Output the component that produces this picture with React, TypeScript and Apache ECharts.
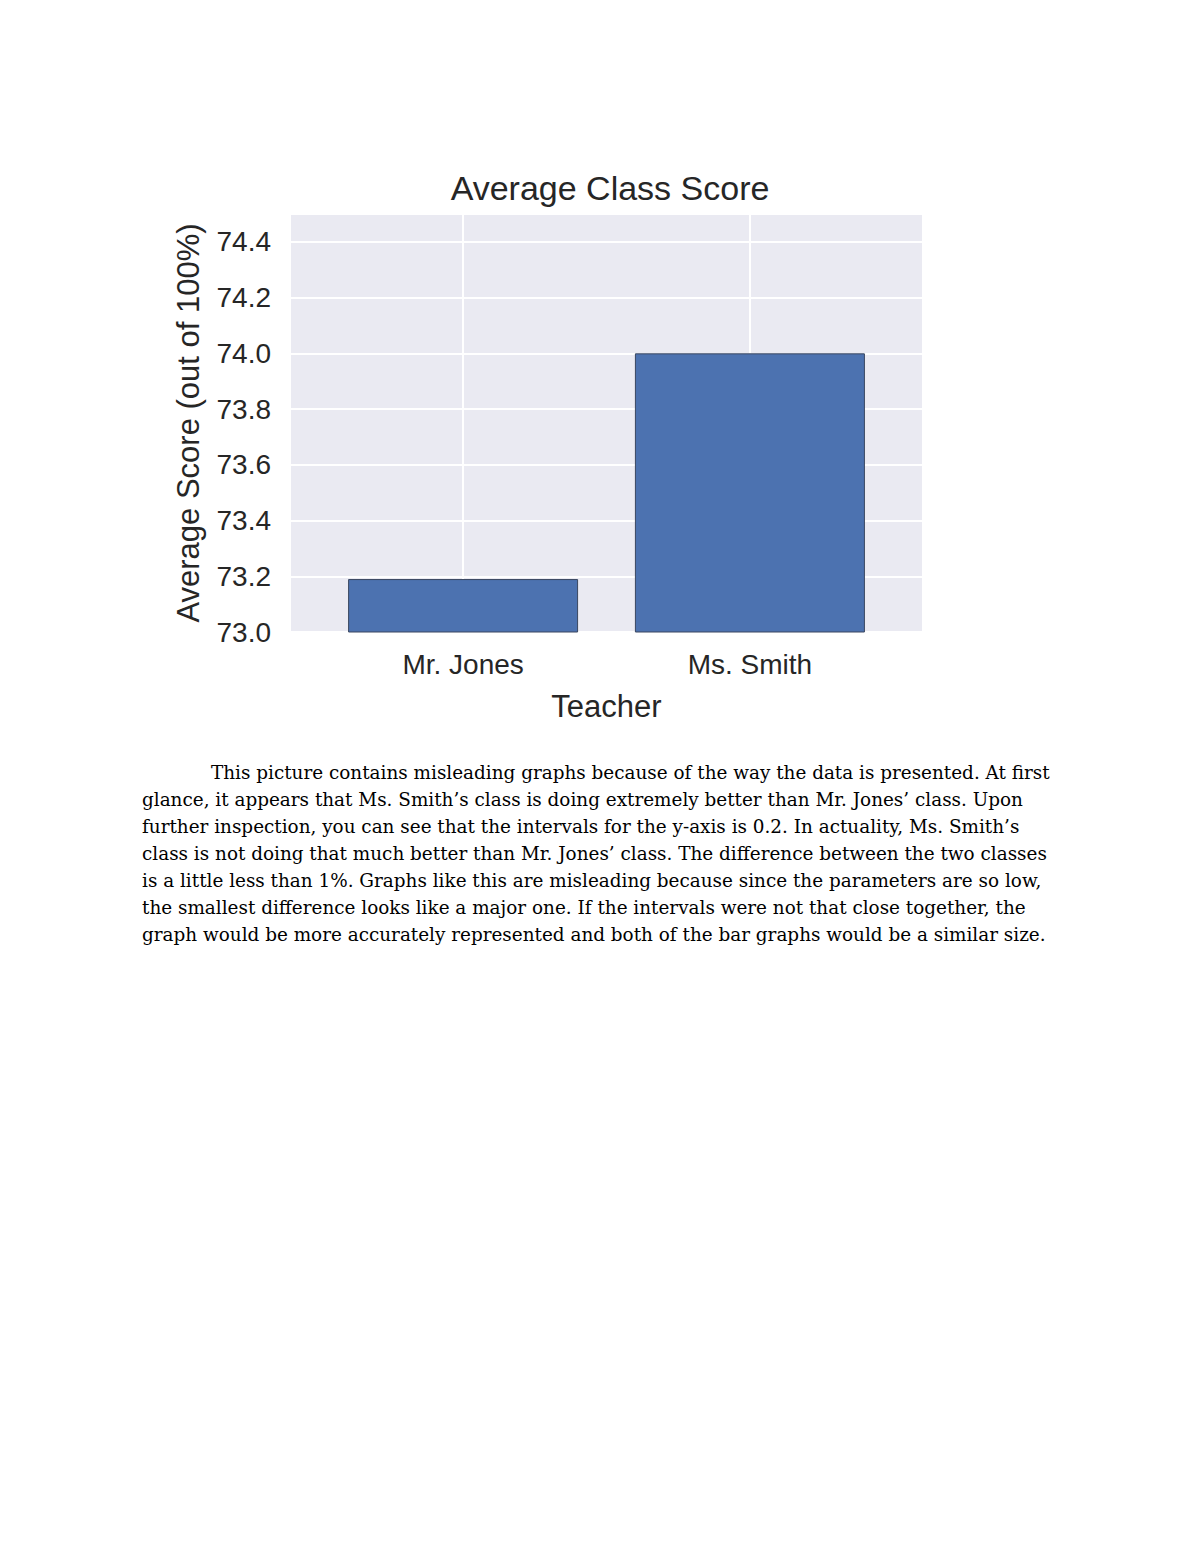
import { useEffect, useRef } from "react"
import * as echarts from "echarts"

const teachers = ["Mr. Jones", "Ms. Smith"]
const scores = [73.19, 74.0]
const yTicks = [73.0, 73.2, 73.4, 73.6, 73.8, 74.0, 74.2, 74.4]

const paragraph = [
  "This picture contains misleading graphs because of the way the data is presented. At first",
  "glance, it appears that Ms. Smith’s class is doing extremely better than Mr. Jones’ class. Upon",
  "further inspection, you can see that the intervals for the y-axis is 0.2. In actuality, Ms. Smith’s",
  "class is not doing that much better than Mr. Jones’ class. The difference between the two classes",
  "is a little less than 1%. Graphs like this are misleading because since the parameters are so low,",
  "the smallest difference looks like a major one. If the intervals were not that close together, the",
  "graph would be more accurately represented and both of the bar graphs would be a similar size.",
]

const SANS = "'Liberation Sans', Arial, sans-serif"
const SERIF = "'DejaVu Serif', 'Liberation Serif', serif"

export default function App() {
  const chartRef = useRef<HTMLDivElement>(null)

  useEffect(() => {
    if (!chartRef.current) return
    const chart = echarts.init(chartRef.current, null, { renderer: "svg" })

    const option: echarts.EChartsOption = {
      animation: false,
      backgroundColor: "#ffffff",
      title: {
        text: "Average Class Score",
        left: 605,
        top: 166,
        textAlign: "center",
        textStyle: { fontFamily: SANS, fontSize: 34, fontWeight: "normal", color: "#262626" },
      },
      grid: {
        left: 291,
        right: 278,
        top: 214,
        bottom: 1553 - 632,
        show: true,
        backgroundColor: "#eaeaf2",
        borderWidth: 0,
      },
      xAxis: {
        type: "value",
        min: -0.6,
        max: 1.6,
        name: "Teacher",
        nameLocation: "middle",
        nameGap: 59,
        nameTextStyle: { fontFamily: SANS, fontSize: 31, color: "#262626" },
        axisLine: { show: false },
        axisTick: { show: false },
        splitLine: { show: false },
        axisLabel: {
          customValues: [0, 1],
          formatter: (v: number) => teachers[Math.round(v)] ?? "",
          fontFamily: SANS,
          fontSize: 28,
          color: "#262626",
          margin: 18,
        },
      },
      yAxis: {
        type: "value",
        min: 73,
        max: 74.5,
        interval: 0.2,
        name: "Average Score (out of 100%)",
        nameLocation: "middle",
        nameGap: 87,
        nameTextStyle: { fontFamily: SANS, fontSize: 31, color: "#262626" },
        axisLine: { show: false },
        axisTick: { show: false },
        splitLine: { show: true, lineStyle: { color: "#ffffff", width: 2 } },
        axisLabel: {
          fontFamily: SANS,
          fontSize: 28,
          color: "#262626",
          margin: 20,
          showMaxLabel: false,
          formatter: (v: number) => (yTicks.some((t) => Math.abs(t - v) < 1e-6) ? v.toFixed(1) : ""),
        },
      },
      series: [
        {
          type: "bar",
          z: 2,
          barWidth: 230,
          data: scores.map((s, i) => [i, s]),
          itemStyle: { color: "#4c72b0", borderColor: "#3a4760", borderWidth: 1 },
          markLine: {
            silent: true,
            z: 1,
            symbol: "none",
            label: { show: false },
            lineStyle: { color: "#ffffff", width: 2, type: "solid" },
            data: teachers.map((_, i) => ({ xAxis: i })),
          },
        },
      ],
      graphic: paragraph.map((line, i) => ({
        type: "text",
        x: i === 0 ? 211 : 142,
        y: 772 + i * 27,
        style: {
          text: line,
          font: `18.4px ${SERIF}`,
          fill: "#000000",
          verticalAlign: "middle",
        },
      })),
    }

    chart.setOption(option)
    return () => chart.dispose()
  }, [])

  return (
    <div
      ref={chartRef}
      style={{ position: "absolute", left: 0, top: 0, width: "1200px", height: "1553px" }}
    />
  )
}
